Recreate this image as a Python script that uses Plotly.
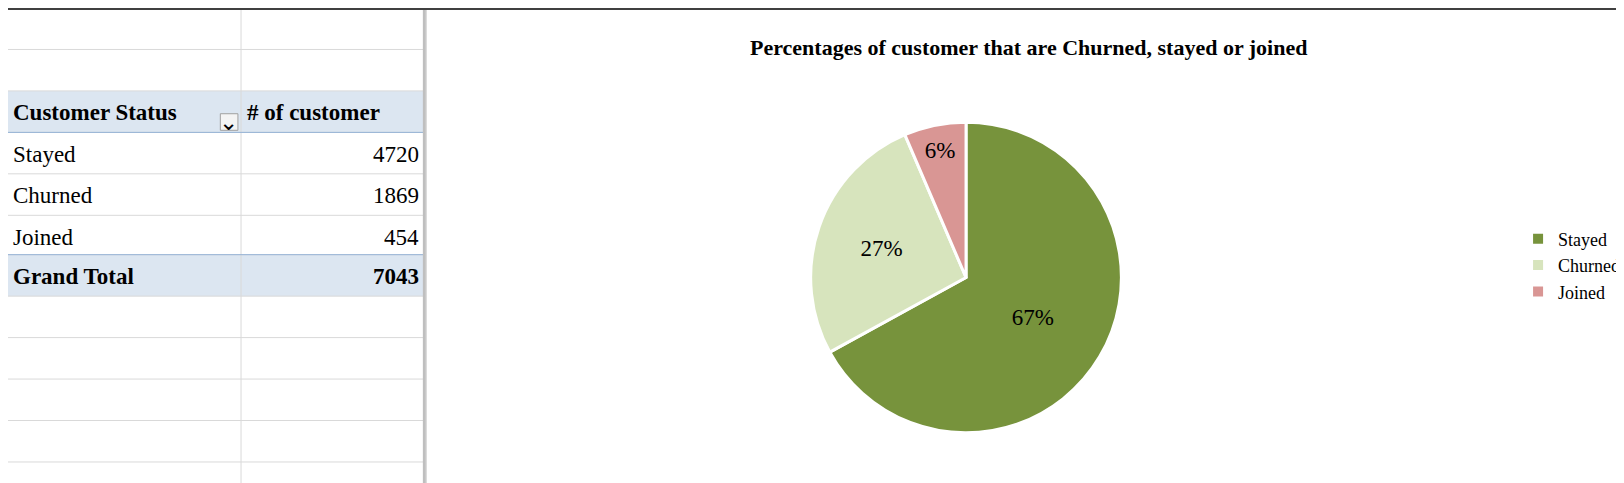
import plotly.graph_objects as go

# pivot table data
statuses = ["Stayed", "Churned", "Joined"]
customers = [4720, 1869, 454]
grand_total = 7043
colors = ["#77933c", "#d7e4bd", "#d99694"]

W, H = 1624, 483
# coordinates below are measured on a 1568-wide view of the reference
VW, VH = 1568, 466
FONT = "Liberation Serif"

fig = go.Figure()

fig.update_xaxes(range=[0, VW], visible=False, fixedrange=True)
fig.update_yaxes(range=[VH, 0], visible=False, fixedrange=True)

shapes = []
row_lines = [0, 40, 80, 120, 160, 200, 238, 278, 318, 358, 398, 438]
for y in row_lines:
    shapes.append(dict(type="line", x0=0, x1=402, y0=y, y1=y, line=dict(color="#d9d9d9", width=1)))
shapes.append(dict(type="line", x0=225, x1=225, y0=0, y1=VH, line=dict(color="#d9d9d9", width=1)))
shapes.append(dict(type="rect", x0=0, x1=402, y0=80, y1=120, fillcolor="#dce6f1", line=dict(width=0), layer="below"))
shapes.append(dict(type="rect", x0=0, x1=402, y0=238, y1=278, fillcolor="#dce6f1", line=dict(width=0), layer="below"))
shapes.append(dict(type="line", x0=0, x1=402, y0=120, y1=120, line=dict(color="#95b3d7", width=1)))
shapes.append(dict(type="line", x0=0, x1=402, y0=238, y1=238, line=dict(color="#95b3d7", width=1)))
shapes.append(dict(type="rect", x0=205, x1=222, y0=102, y1=118, fillcolor="#f4f4f4", line=dict(color="#a0a0a0", width=1)))
shapes.append(dict(type="line", x0=402, x1=402, y0=0, y1=VH, line=dict(color="#bfbfbf", width=3)))
shapes.append(dict(type="rect", x0=404, x1=VW - 2, y0=1, y1=VH - 2, line=dict(color="#d9d9d9", width=1)))
shapes.append(dict(type="line", x0=0, x1=VW, y0=1, y1=1, line=dict(color="#404040", width=2)))

ann = []
def cell(x, y, text, anchor="left", bold=False):
    ann.append(dict(x=x, y=y, xref="x", yref="y", text=f"<b>{text}</b>" if bold else text,
                    showarrow=False, xanchor=anchor, font=dict(family=FONT, size=23, color="black")))

cell(3, 101, "Customer Status", bold=True)
cell(229, 101, "# of customer", bold=True)
cell(213, 110, "⌄", anchor="center")
for i, (s, c) in enumerate(zip(statuses, customers)):
    cell(3, 141 + 40 * i, s)
    cell(399, 141 + 40 * i, str(c), anchor="right")
cell(3, 259, "Grand Total", bold=True)
cell(399, 259, str(grand_total), anchor="right", bold=True)

ann.append(dict(x=985, y=38, xref="x", yref="y", text="<b>Percentages of customer that are Churned, stayed or joined</b>",
                showarrow=False, font=dict(family=FONT, size=22, color="black")))

fig.add_trace(go.Pie(
    labels=statuses, values=customers, sort=False, direction="clockwise", rotation=0,
    marker=dict(colors=colors, line=dict(color="white", width=3)),
    texttemplate="%{percent:.0%}", textposition="inside", insidetextorientation="horizontal",
    textfont=dict(family=FONT, size=23, color="black"),
    domain=dict(x=[775 / VW, 1075 / VW], y=[1 - 410 / VH, 1 - 110 / VH]),
))

fig.update_layout(
    width=W, height=H, margin=dict(l=0, r=0, t=0, b=0),
    paper_bgcolor="white", plot_bgcolor="white",
    shapes=shapes, annotations=ann,
    legend=dict(x=1458 / VW, y=1 - 205 / VH, xanchor="left", yanchor="top",
                font=dict(family=FONT, size=18, color="black"), tracegroupgap=14, itemsizing="constant"),
)

fig.write_html("out.html")
